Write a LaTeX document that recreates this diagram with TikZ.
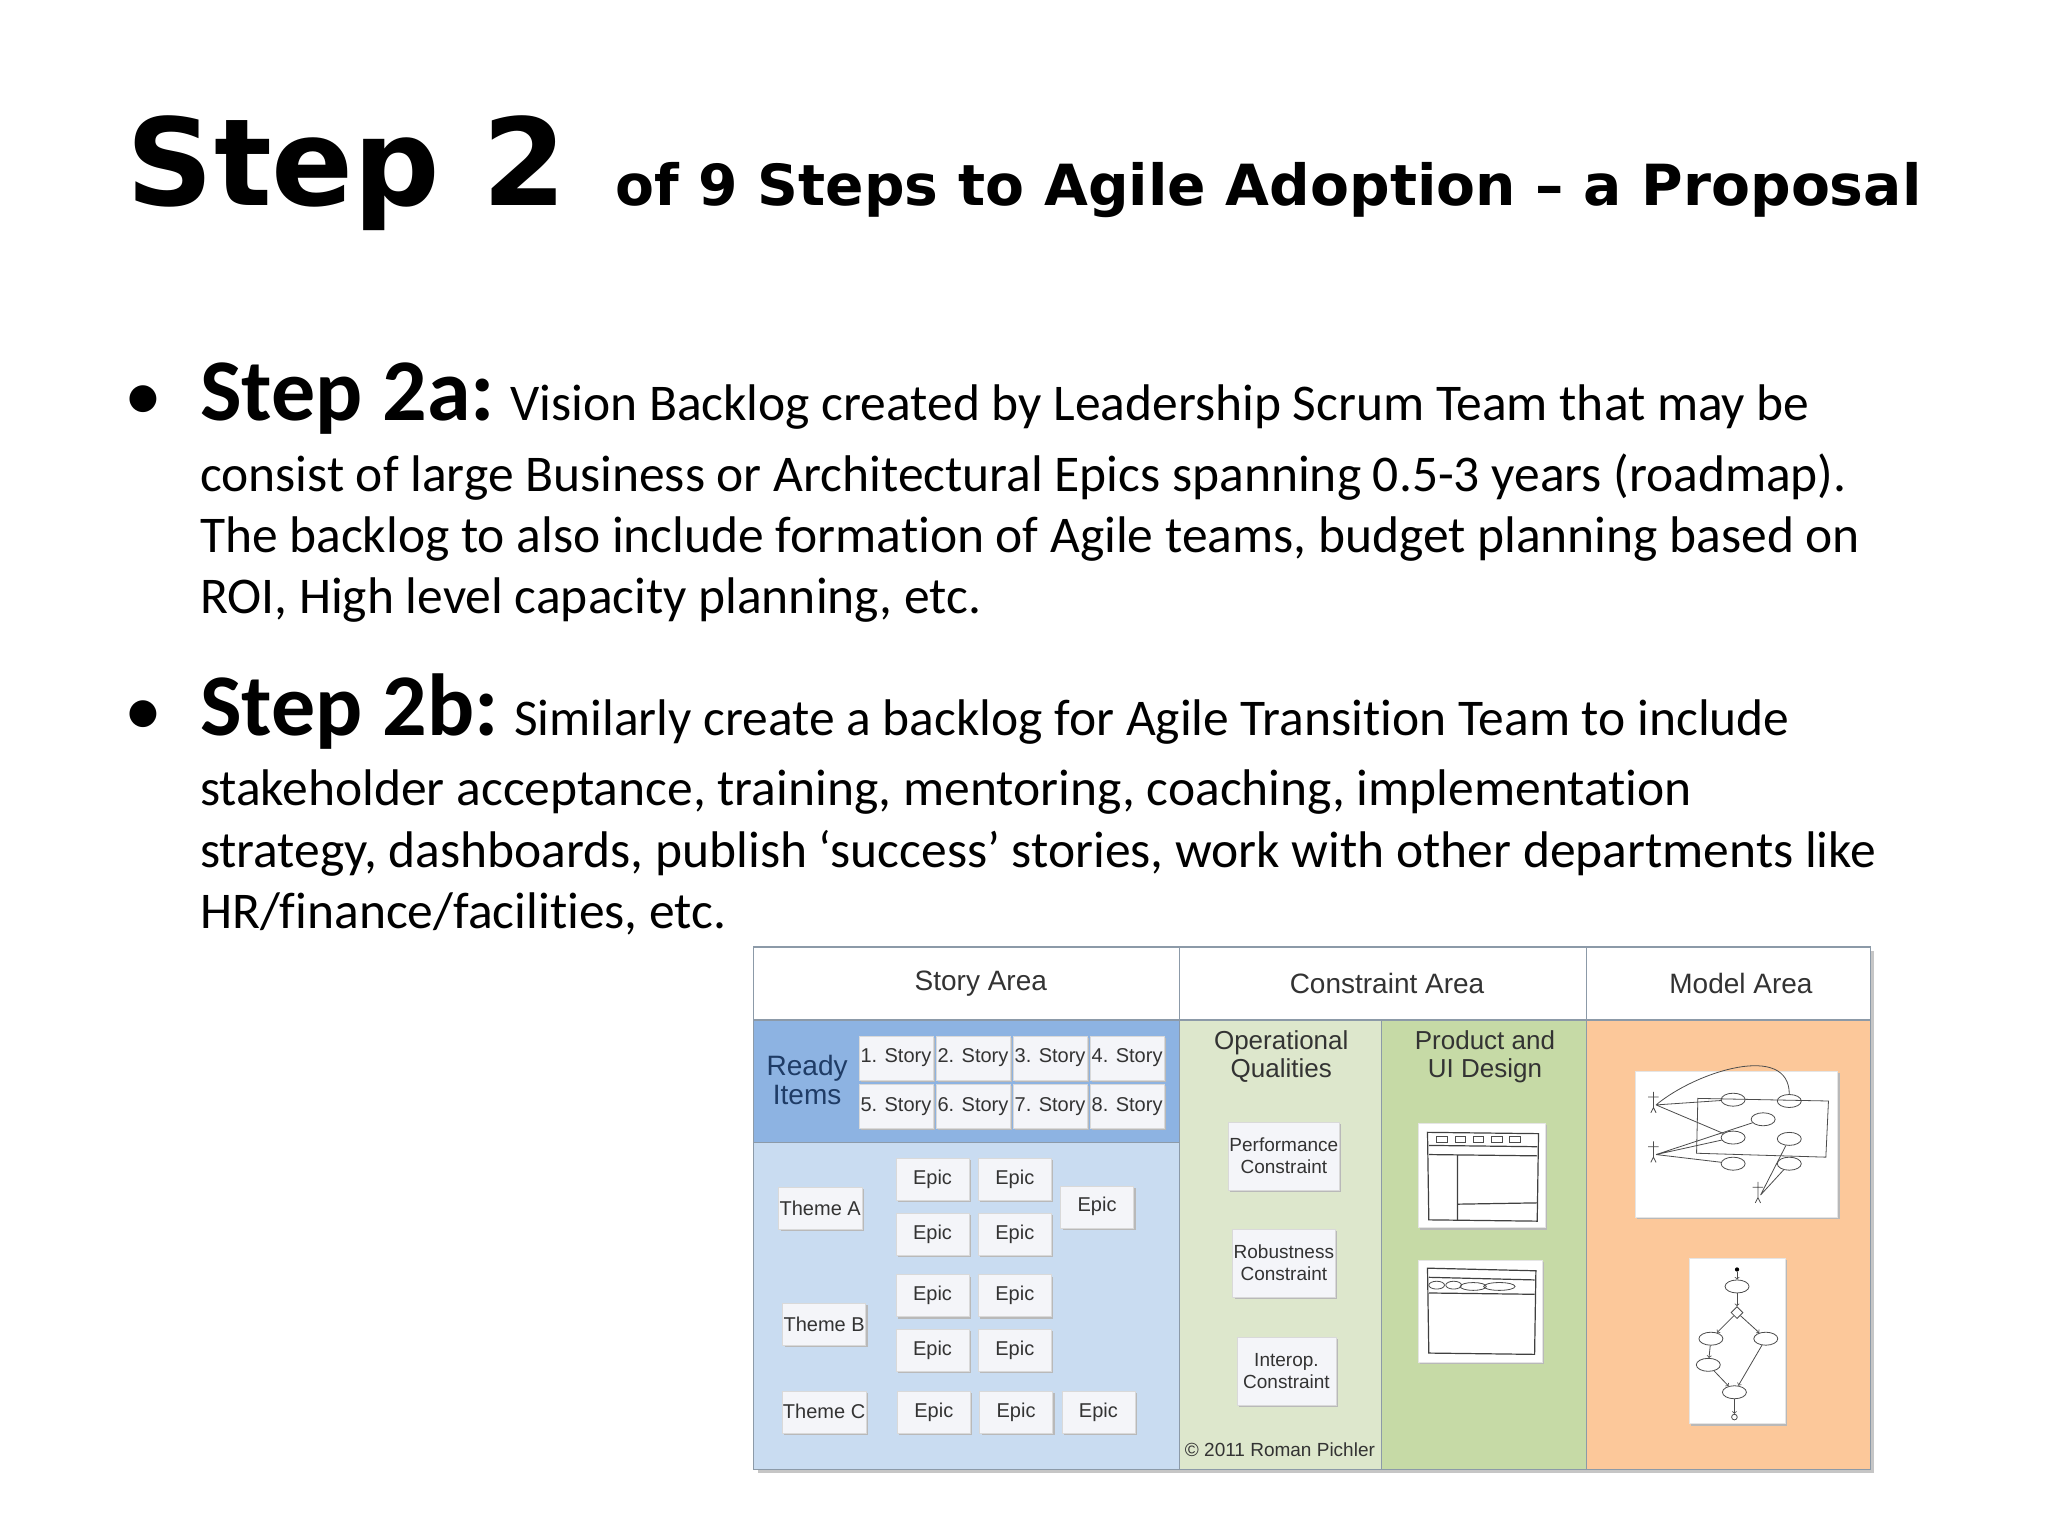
\documentclass[tikz,border=0pt]{standalone}
\usepackage{fontspec}
\setmainfont{Carlito}[Ligatures=NoCommon]
\newfontfamily\titlef{DejaVu Sans}
\newfontfamily\arialf{Liberation Sans}
\usetikzlibrary{shadows,shapes.geometric}
\definecolor{readyblue}{HTML}{8DB3E2}
\definecolor{themeblue}{HTML}{C9DCF1}
\definecolor{opgreen}{HTML}{DDE7CC}
\definecolor{prodgreen}{HTML}{C6DAA6}
\definecolor{modelorange}{HTML}{FCC89A}
\definecolor{cardfill}{HTML}{F4F5F9}
\definecolor{frame}{HTML}{8C9AA8}
\definecolor{readytext}{HTML}{1F3C66}
\tikzset{
  line/.style={anchor=base west,inner sep=0pt,font=\fontsize{51.5}{58}\selectfont},
  card/.style={draw=gray!30,fill=cardfill,inner sep=1pt,align=center,
    drop shadow={shadow xshift=2pt,shadow yshift=-2pt,fill=gray!55,opacity=1},
    font=\arialf\fontsize{20}{23}\selectfont,text=black!80},
  storycard/.style={card,minimum width=74pt,minimum height=44pt},
  epiccard/.style={card,minimum width=73pt,minimum height=42pt},
  themecard/.style={card,minimum width=75pt,minimum height=42pt},
  conscard/.style={card,minimum width=99pt,minimum height=68pt,font=\arialf\fontsize{19}{22}\selectfont},
  hdr/.style={font=\arialf\fontsize{28}{30}\selectfont,text=black!80,align=center},
  sub/.style={font=\arialf\fontsize{26}{28}\selectfont,text=black!80,align=center},
  sketch/.style={fill=white,draw=gray!20,drop shadow={shadow xshift=2pt,shadow yshift=-2pt,fill=gray!55,opacity=1}},
  pen/.style={draw=black!75,line width=1.2pt},
  thinpen/.style={draw=black!70,line width=0.8pt},
  epicell/.style={ellipse,thinpen,minimum width=24pt,minimum height=13pt,inner sep=0pt}
}
\begin{document}
\begin{tikzpicture}[x=1.306pt,y=-1.306pt]
\useasboundingbox[fill=white] (0,0) rectangle (1568.1,1176.1);
% title
\node[anchor=base west,inner sep=0pt] (title) at (97,157)
  {\resizebox{440pt}{!}{\titlef\bfseries\fontsize{123}{130}\selectfont Step 2}};
\node[anchor=base west,inner sep=0pt] (subtitle) at (471,157)
  {\resizebox{1306pt}{!}{\titlef\bfseries\fontsize{62}{70}\selectfont of 9 Steps to Agile Adoption – a Proposal}};
% bullets
\node[line,font=\fontsize{76}{76}\selectfont] (b1) at (95,322) {•};
\node[line] (l1) at (153,322) {{\fontsize{88}{88}\selectfont\bfseries Step 2a:} Vision Backlog created by Leadership Scrum Team that may be};
\node[line] (l2) at (153,376) {consist of large Business or Architectural Epics spanning 0.5-3 years (roadmap).};
\node[line] (l3) at (153,423) {The backlog to also include formation of Agile teams, budget planning based on};
\node[line] (l4) at (153,470) {ROI, High level capacity planning, etc.};
\node[line,font=\fontsize{76}{76}\selectfont] (b2) at (95,563) {•};
\node[line] (m1) at (153,563) {{\fontsize{88}{88}\selectfont\bfseries Step 2b:} Similarly create a backlog for Agile Transition Team to include};
\node[line] (m2) at (153,617) {stakeholder acceptance, training, mentoring, coaching, implementation};
\node[line] (m3) at (153,664) {strategy, dashboards, publish ‘success’ stories, work with other departments like};
\node[line] (m4) at (153,711) {HR/finance/facilities, etc.};
% diagram frame
\fill[gray!45] (580,728) rectangle (1435,1128);
\fill[white] (577,725) rectangle (1432,781);
\fill[readyblue] (577,781) rectangle (903,875);
\fill[themeblue] (577,875) rectangle (903,1125);
\fill[opgreen] (903,781) rectangle (1058,1125);
\fill[prodgreen] (1058,781) rectangle (1215,1125);
\fill[modelorange] (1215,781) rectangle (1432,1125);
\draw[frame,line width=1.5pt] (577,725) rectangle (1432,1125);
\draw[frame,line width=1.2pt] (577,781) -- (1432,781) (903,725) -- (903,1125) (1215,725) -- (1215,1125)
  (1058,781) -- (1058,1125) (577,875) -- (903,875);
% headers
\node[hdr] (hs) at (751,753) {Story Area};
\node[hdr] (hc) at (1062,753) {Constraint Area};
\node[hdr] (hm) at (1333,753) {Model Area};
\node[sub,text=readytext,font=\arialf\fontsize{28}{29}\selectfont] (ready) at (618,827) {Ready\\Items};
\node[sub] (opq) at (981,809) {Operational\\Qualities};
\node[sub] (prd) at (1137,809) {Product and\\UI Design};
% stories
\foreach \n/\x/\y in {1/686/810,2/745/810,3/804/810,4/863/810,5/686/847,6/745/847,7/804/847,8/863/847}
  \node[storycard] (s\n) at (\x,\y) {\n. Story};
% themes
\node[themecard] (ta) at (628,925) {Theme A};
\node[themecard] (tb) at (631,1014) {Theme B};
\node[themecard] (tc) at (631,1081) {Theme C};
% epics
\foreach \n/\x/\y in {1/714/903,2/777/903,3/714/945,4/777/945,5/840/924,6/714/992,7/777/992,8/714/1034,9/777/1034,10/715/1081,11/778/1081,12/841/1081}
  \node[epiccard] (e\n) at (\x,\y) {Epic};
% constraints
\node[conscard] (c1) at (983,885) {Performance\\Constraint};
\node[conscard] (c2) at (983,967) {Robustness\\Constraint};
\node[conscard] (c3) at (985,1050) {Interop.\\Constraint};
\node[font=\arialf\fontsize{19}{21}\selectfont,text=black!80] (copy) at (980,1110) {© 2011 Roman Pichler};
% UI sketches
\filldraw[sketch] (1086,860) rectangle (1183,940);
\draw[pen] (1093,867) -- (1178,868) -- (1177,935) -- (1094,934) -- cycle;
\draw[pen] (1094,877) -- (1177,878) (1094,884) -- (1177,885) (1116,884) -- (1116,934) (1116,922) -- (1177,921);
\foreach \x in {1100,1114,1128,1142,1156}
  \draw[thinpen] (\x,870) rectangle ++(8,5);
\filldraw[sketch] (1086,965) rectangle (1181,1043);
\draw[pen] (1093,971) -- (1176,973) -- (1175,1037) -- (1094,1036) -- cycle;
\draw[pen] (1094,978) -- (1175,980) (1094,990) -- (1175,991);
\draw[thinpen] (1100,984) ellipse (6 and 3) (1113,984) ellipse (6 and 3) (1128,985) ellipse (10 and 3) (1148,985) ellipse (12 and 3);
% model sketch 1
\filldraw[sketch] (1252,820) rectangle (1407,932);
\draw[thinpen] (1300,841) -- (1400,843) -- (1398,886) -- (1299,883) -- cycle;
\node[epicell] (ma) at (1327,842) {};
\node[epicell] (mb) at (1370,843) {};
\node[epicell] (mc) at (1350,857) {};
\node[epicell] (md) at (1327,871) {};
\node[epicell] (me) at (1370,872) {};
\node[epicell] (mf) at (1327,891) {};
\node[epicell] (mg) at (1370,891) {};
\coordinate (a1) at (1268,846);
\coordinate (a2) at (1268,884);
\coordinate (a3) at (1348,915);
\draw[thinpen] (1266,836) -- (1266,848) (1262,840) -- (1270,840) (1264,852) -- (1266,848) -- (1268,852);
\draw[thinpen] (1266,874) -- (1266,886) (1262,878) -- (1270,878) (1264,890) -- (1266,886) -- (1268,890);
\draw[thinpen] (1346,905) -- (1346,917) (1342,909) -- (1350,909) (1344,921) -- (1346,917) -- (1348,921);
\draw[thinpen] (a1) -- (ma) (a1) -- (md) (a1) to[out=40,in=90] (mb);
\draw[thinpen] (a2) -- (md) (a2) -- (mf) (a2) -- (mc);
\draw[thinpen] (a3) -- (me) (a3) -- (mg);
% model sketch 2
\filldraw[sketch] (1293,963) rectangle (1367,1090);
\node[circle,fill=black,inner sep=1.5pt] (n0) at (1330,972) {};
\node[epicell] (n1) at (1330,985) {};
\node[diamond,thinpen,inner sep=3pt] (n2) at (1330,1005) {};
\node[epicell] (n3) at (1310,1025) {};
\node[epicell] (n4) at (1352,1025) {};
\node[epicell] (n5) at (1308,1045) {};
\node[epicell] (n6) at (1328,1066) {};
\node[circle,thinpen,inner sep=2pt] (n7) at (1328,1085) {};
\draw[thinpen,->] (n0) -- (n1);
\draw[thinpen,->] (n1) -- (n2);
\draw[thinpen,->] (n2) -- (n3);
\draw[thinpen,->] (n2) -- (n4);
\draw[thinpen,->] (n3) -- (n5);
\draw[thinpen,->] (n5) -- (n6);
\draw[thinpen,->] (n4) -- (n6);
\draw[thinpen,->] (n6) -- (n7);
\end{tikzpicture}
\end{document}
